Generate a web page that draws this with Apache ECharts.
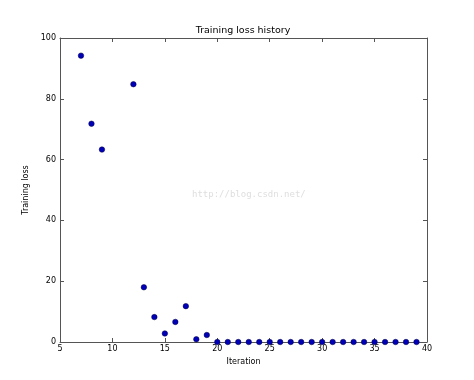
<!DOCTYPE html>
<html><head><meta charset="utf-8">
<script src="https://cdn.jsdelivr.net/npm/echarts@6/dist/echarts.min.js"></script>
<style>html,body{margin:0;padding:0;background:#fff}#c{width:474px;height:380px}</style>
</head><body><div id="c"></div>
<script>
const iterations = [7, 8, 9, 12, 13, 14, 15, 16, 17, 18, 19, 20, 21, 22, 23, 24, 25, 26, 27, 28, 29, 30, 31, 32, 33, 34, 35, 36, 37, 38, 39];
const losses = [94.2, 71.8, 63.3, 84.8, 18.0, 8.2, 2.8, 6.6, 11.8, 0.9, 2.3, 0, 0, 0, 0, 0, 0, 0, 0, 0, 0, 0, 0, 0, 0, 0, 0, 0, 0, 0, 0];
const xTicks = [5, 10, 15, 20, 25, 30, 35, 40];
const yTicks = [0, 20, 40, 60, 80, 100];

const chart = echarts.init(document.getElementById('c'), null, {renderer: 'canvas'});
const font = 'DejaVu Sans';
const axisLine = {show: true, onZero: false, lineStyle: {color: '#555', width: 1}};
const tick = {show: true, inside: true, length: 4, lineStyle: {color: '#555'}};
chart.setOption({
  animation: false,
  backgroundColor: '#fff',
  title: {text: 'Training loss history', left: 243, textAlign: 'center', top: 26, padding: 0,
    textStyle: {fontFamily: font, fontSize: 9.5, fontWeight: 'normal', color: '#000'}},
  grid: {left: 60, right: 47, top: 38, bottom: 38},
  xAxis: [{
    type: 'value', min: xTicks[0], max: xTicks[xTicks.length - 1], interval: 5,
    name: 'Iteration', nameLocation: 'middle', nameGap: 16,
    nameTextStyle: {fontFamily: font, fontSize: 8, color: '#000'},
    axisLine: axisLine, axisTick: tick, splitLine: {show: false},
    axisLabel: {fontFamily: font, fontSize: 8, color: '#000', margin: 3}
  }, {
    type: 'value', position: 'top', min: xTicks[0], max: xTicks[xTicks.length - 1], interval: 5,
    axisLine: axisLine, axisTick: tick, splitLine: {show: false}, axisLabel: {show: false}
  }],
  yAxis: [{
    type: 'value', min: yTicks[0], max: yTicks[yTicks.length - 1], interval: 20,
    name: 'Training loss', nameLocation: 'middle', nameGap: 25, nameRotate: 90,
    nameTextStyle: {fontFamily: font, fontSize: 8, color: '#000'},
    axisLine: axisLine, axisTick: tick, splitLine: {show: false},
    axisLabel: {fontFamily: font, fontSize: 8, color: '#000', margin: 4}
  }, {
    type: 'value', position: 'right', min: yTicks[0], max: yTicks[yTicks.length - 1], interval: 20,
    axisLine: axisLine, axisTick: tick, splitLine: {show: false}, axisLabel: {show: false}
  }],
  graphic: [{
    type: 'text', left: 192, top: 190, silent: true,
    style: {text: 'http://blog.csdn.net/', font: '9px "DejaVu Sans Mono"', fill: 'rgba(200,200,200,0.6)'}
  }],
  series: [{
    type: 'scatter', xAxisIndex: 0, yAxisIndex: 0,
    data: iterations.map((x, i) => [x, losses[i]]),
    symbol: 'circle', symbolSize: 5.5,
    itemStyle: {color: '#0000b8', borderColor: '#000040', borderWidth: 0.5, opacity: 1}
  }]
});
</script></body></html>
